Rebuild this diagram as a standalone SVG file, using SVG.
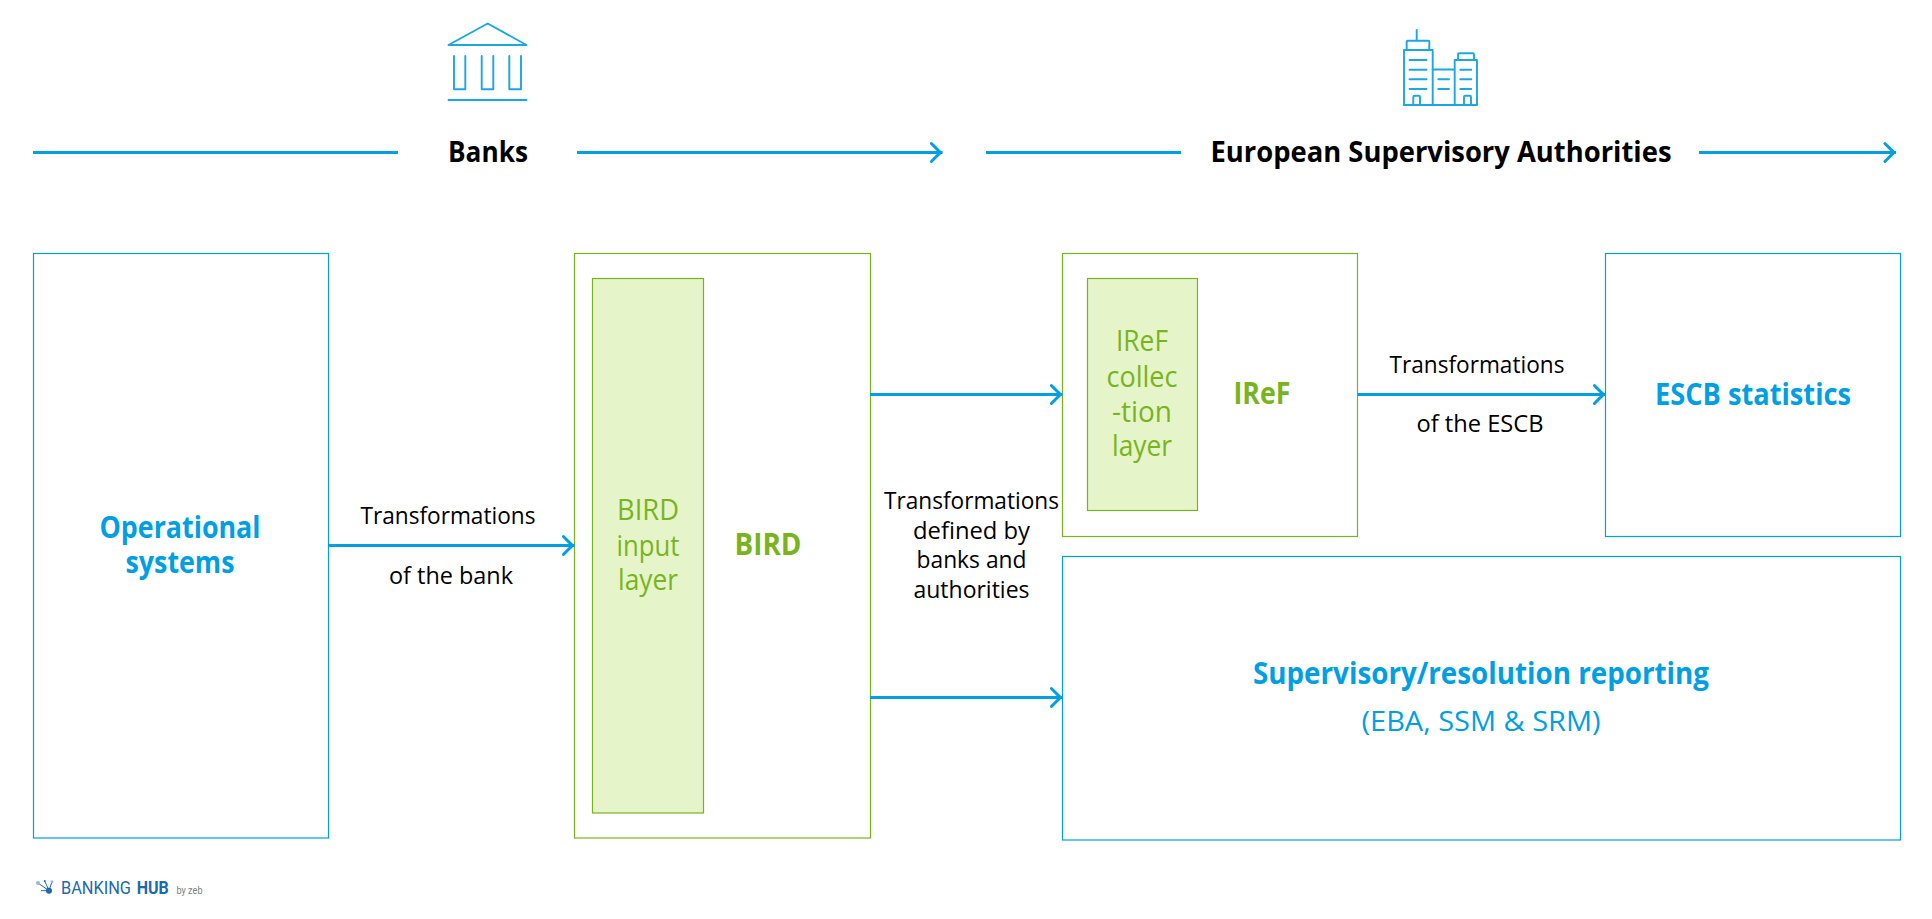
<svg xmlns="http://www.w3.org/2000/svg" width="1932" height="919" viewBox="0 0 1932 919">
<style>
text{font-family:"Open Sans","Noto Sans","Liberation Sans",sans-serif;text-anchor:middle}
.blk{fill:#000;font-size:24.5px}
.hdr{fill:#000;font-size:28px;font-weight:700}
.bb{fill:#009FE3;font-size:30px;font-weight:700}
.bl{fill:#009FE3;font-size:28px}
.gb{fill:#78B41E;font-size:30px;font-weight:700}
.gl{fill:#78B41E;font-size:29px}
.box-b{fill:#fff;stroke:#009FE3;stroke-width:1.2}
.box-g{fill:#fff;stroke:#78B41E;stroke-width:1.2}
.box-l{fill:#E5F5C9;stroke:#78B41E;stroke-width:1.2}
.con{fill:none;stroke:#009FE3;stroke-width:3;marker-end:url(#chev)}
.plain{fill:none;stroke:#009FE3;stroke-width:3}
.ico{fill:none;stroke:#1AA7E4;stroke-width:1.9;stroke-linejoin:round;stroke-linecap:round}
.logo-t{text-anchor:start;font-family:Roboto,sans-serif;font-size:18px;fill:#1C69AE}
</style>
<defs>
<marker id="chev" markerUnits="userSpaceOnUse" markerWidth="16" markerHeight="26" refX="14.1" refY="13" orient="auto" overflow="visible">
<path d="M3 4L12 13L3 22" fill="none" stroke="#009FE3" stroke-width="3" stroke-linecap="round"/>
</marker>
</defs>
<rect width="1932" height="919" fill="#fff"/>

<g id="icon-bank" class="ico">
<path d="M448.5 45L487.7 23.5L526.5 45Z"/>
<path d="M454 56V89.3H465.3V56M481.7 56V89.3H493.3V56M509.3 56V89.3H521V56"/>
<path d="M448.5 100H526.5"/>
</g>
<g id="icon-authorities" class="ico">
<path d="M1404 105V50H1432.7V105ZM1406.7 50V41.5Q1406.7 40.7 1407.5 40.7H1428.5Q1429.3 40.7 1429.3 41.5V50M1416.7 30V40.7"/>
<path d="M1432.7 69.5H1454.7M1454.7 105V60H1477V105H1404M1458 60V54.5Q1458 53.3 1459.2 53.3H1472.8Q1474 53.3 1474 54.5V60"/>
<path d="M1409.5 60H1426.5M1409.5 69.7H1426.5M1409.5 79.3H1426.5M1409.5 89H1426.5M1438.3 79.3H1449M1438.3 89H1449M1460.3 69.7H1471.3M1460.3 79.3H1471.3M1460.3 89H1471.3"/>
<path d="M1413.3 105V97Q1413.3 95.7 1414.6 95.7H1418.7Q1420 95.7 1420 97V105M1464 105V97Q1464 95.7 1465.3 95.7H1469.7Q1471 95.7 1471 97V105"/>
</g>

<g id="header-banks">
<text class="hdr" x="488" y="162" textLength="80" lengthAdjust="spacingAndGlyphs">Banks</text>
</g>
<g id="header-authorities">
<text class="hdr" x="1441" y="162" textLength="461" lengthAdjust="spacingAndGlyphs">European Supervisory Authorities</text>
</g>

<g id="operational-systems">
<rect class="box-b" x="33.5" y="253.5" width="295" height="584.5"/>
<text class="bb" x="180" y="538" textLength="161" lengthAdjust="spacingAndGlyphs">Operational</text>
<text class="bb" x="180" y="573" textLength="109" lengthAdjust="spacingAndGlyphs">systems</text>
</g>

<g id="bird">
<rect class="box-g" x="574.5" y="253.5" width="296" height="584.5"/>
<text class="gb" x="768" y="555" textLength="67" lengthAdjust="spacingAndGlyphs">BIRD</text>
</g>
<g id="bird-input-layer">
<rect class="box-l" x="592.5" y="278.5" width="111" height="534.5"/>
<text class="gl" x="648" y="520" textLength="62" lengthAdjust="spacingAndGlyphs">BIRD</text>
<text class="gl" x="648" y="556" textLength="63" lengthAdjust="spacingAndGlyphs">input</text>
<text class="gl" x="648" y="590" textLength="60" lengthAdjust="spacingAndGlyphs">layer</text>
</g>

<g id="iref">
<rect class="box-g" x="1062.5" y="253.5" width="295" height="283"/>
<text class="gb" x="1262" y="404" textLength="57" lengthAdjust="spacingAndGlyphs">IReF</text>
</g>
<g id="iref-collection-layer">
<rect class="box-l" x="1087.5" y="278.5" width="110" height="232"/>
<text class="gl" x="1142" y="351" textLength="52" lengthAdjust="spacingAndGlyphs">IReF</text>
<text class="gl" x="1142" y="387" textLength="71" lengthAdjust="spacingAndGlyphs">collec</text>
<text class="gl" x="1142" y="422" textLength="60" lengthAdjust="spacingAndGlyphs">-tion</text>
<text class="gl" x="1142" y="456" textLength="60" lengthAdjust="spacingAndGlyphs">layer</text>
</g>

<g id="escb-statistics">
<rect class="box-b" x="1605.5" y="253.5" width="295" height="283"/>
<text class="bb" x="1753" y="405" textLength="196" lengthAdjust="spacingAndGlyphs">ESCB statistics</text>
</g>

<g id="supervisory-reporting">
<rect class="box-b" x="1062.5" y="556.5" width="838" height="283.5"/>
<text class="bb" x="1481" y="684" textLength="456" lengthAdjust="spacingAndGlyphs">Supervisory/resolution reporting</text>
<text class="bl" x="1481" y="731" textLength="239" lengthAdjust="spacingAndGlyphs">(EBA, SSM &amp; SRM)</text>
</g>

<g id="connectors">
<path class="plain" d="M33 152.5H398"/>
<path class="con" d="M577 152.5H942.5"/>
<path class="plain" d="M986 152.5H1181"/>
<path class="con" d="M1699 152.5H1896"/>
<path class="con" d="M329 545.5H574.5"/>
<path class="con" d="M870 394.5H1062.5"/>
<path class="con" d="M870 697.5H1062.5"/>
<path class="con" d="M1357.5 394.5H1605.5"/>
</g>

<g id="labels">
<text class="blk" x="448" y="524" textLength="175" lengthAdjust="spacingAndGlyphs">Transformations</text>
<text class="blk" x="451" y="584" textLength="124" lengthAdjust="spacingAndGlyphs">of the bank</text>
<text class="blk" x="971.5" y="509" textLength="175" lengthAdjust="spacingAndGlyphs">Transformations</text>
<text class="blk" x="971.5" y="539" textLength="117" lengthAdjust="spacingAndGlyphs">defined by</text>
<text class="blk" x="971.5" y="568" textLength="110" lengthAdjust="spacingAndGlyphs">banks and</text>
<text class="blk" x="971.5" y="598" textLength="116" lengthAdjust="spacingAndGlyphs">authorities</text>
<text class="blk" x="1477" y="373" textLength="175" lengthAdjust="spacingAndGlyphs">Transformations</text>
<text class="blk" x="1480" y="432" textLength="127" lengthAdjust="spacingAndGlyphs">of the ESCB</text>
</g>

<g id="logo">
<path d="M49 890.7L38 883M49 890.7L44.7 881M49 890.7L52 881.7M49 890.7L41 890.7" stroke="#1C69AE" stroke-width="1" fill="none"/>
<circle cx="49" cy="890.7" r="3" fill="#1C69AE"/>
<circle cx="38" cy="883" r="2" fill="#8FB8DC"/>
<circle cx="44.7" cy="881" r="1" fill="#1C69AE"/>
<circle cx="52" cy="881.7" r="1.5" fill="#8FB8DC"/>
<text class="logo-t" x="61" y="893.5" textLength="70" lengthAdjust="spacingAndGlyphs">BANKING</text>
<text class="logo-t" x="136.7" y="893.5" font-weight="700" textLength="32" lengthAdjust="spacingAndGlyphs">HUB</text>
<text x="176.5" y="893.7" style="text-anchor:start;font-family:Roboto,sans-serif;font-size:11px;fill:#808080" textLength="26" lengthAdjust="spacingAndGlyphs">by zeb</text>
</g>
</svg>
